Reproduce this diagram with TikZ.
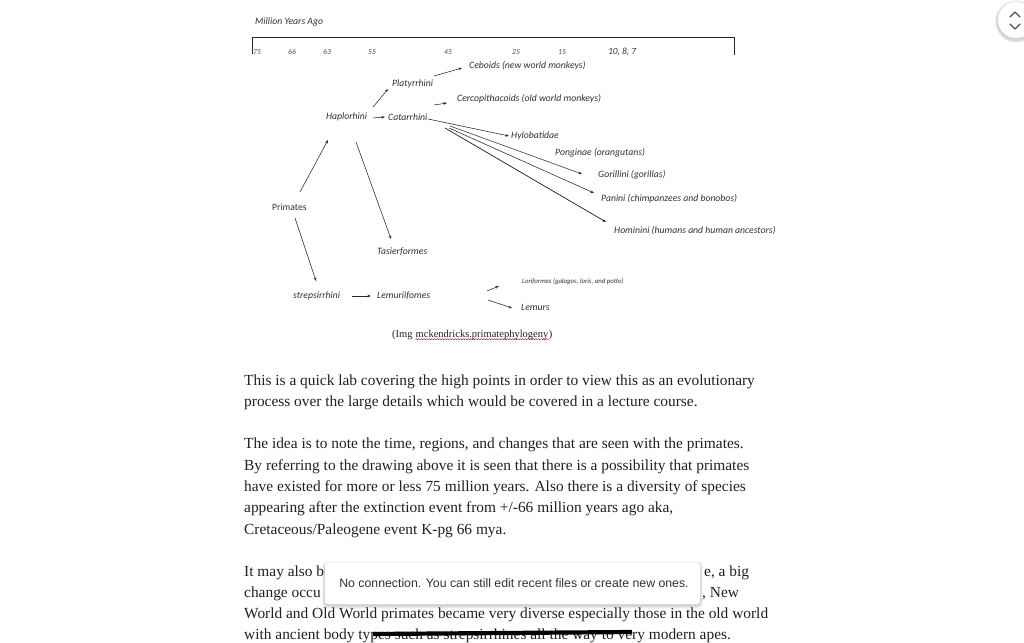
\documentclass[tikz,border=0pt]{standalone}
\usepackage{fontspec}
\setmainfont{Liberation Serif}
\newfontfamily\carl{Carlito}
\newfontfamily\uisans{Liberation Sans}
\usetikzlibrary{arrows.meta,decorations.pathmorphing}
\definecolor{bodytxt}{RGB}{35,30,40}
\definecolor{labtxt}{RGB}{50,50,55}
\definecolor{toasttxt}{RGB}{50,50,55}
\begin{document}
\begin{tikzpicture}[x=1pt,y=-1pt,
  lab/.style={font=\carl\itshape\fontsize{9.7}{10}\selectfont, text=labtxt, inner sep=0pt, anchor=west},
  smalllab/.style={font=\carl\itshape\fontsize{6.8}{7}\selectfont, text=labtxt, inner sep=0pt, anchor=west},
  uplab/.style={font=\carl\fontsize{9.6}{10}\selectfont, text=labtxt, inner sep=0pt, anchor=west},
  num/.style={font=\carl\itshape\fontsize{7.6}{8}\selectfont, text=black!70, inner sep=0pt},
  arr/.style={-{Stealth[length=3.6pt,width=2.6pt]}, line width=0.55pt, draw=black!85},
  bodyline/.style={font=\fontsize{15.4}{17}\selectfont, text=bodytxt, inner sep=0pt, anchor=base west},
  captext/.style={font=\fontsize{10.5}{12}\selectfont, text=bodytxt, inner sep=0pt, anchor=base west}
]
\fill[white] (0,0) rectangle (1024,642);
\useasboundingbox (0,0) rectangle (1024,642);

% ---- timeline header ----
\node[lab] (mya) at (255,22) {Million Years Ago};
\coordinate (tlb) at (252,54);
\coordinate (tlt) at (252,37);
\coordinate (trt) at (734,37);
\coordinate (trb) at (734,55);
\draw[line width=0.7pt, black!85] (tlb) -- (tlt) -- (trt) -- (trb);
\node[num] (n75) at (257,52) {75};
\node[num] (n66) at (292,52) {66};
\node[num] (n63) at (327,52) {63};
\node[num] (n55) at (372,52) {55};
\node[num] (n45) at (448,52) {45};
\node[num] (n25) at (516,52) {25};
\node[num] (n15) at (562,52) {15};
\node[num, font=\carl\itshape\fontsize{9.4}{10}\selectfont, text=labtxt] (n1087) at (622,52) {10, 8, 7};

% ---- tree labels ----
\node[lab] (ceb) at (469,66) {Ceboids (new world monkeys)};
\node[lab] (pla) at (392,84) {Platyrrhini};
\node[lab] (cer) at (457,99) {Cercopithacoids (old world monkeys)};
\node[lab] (hap) at (326,117) {Haplorhini};
\node[lab] (cat) at (388,117) {Catarrhini};
\node[lab] (hyl) at (511,136) {Hylobatidae};
\node[lab] (pon) at (555,153) {Ponginae (orangutans)};
\node[lab] (gor) at (598,175) {Gorillini (gorillas)};
\node[lab] (pan) at (601,199) {Panini (chimpanzees and bonobos)};
\node[lab] (hom) at (614,231) {Hominini (humans and human ancestors)};
\node[uplab] (pri) at (272,207) {Primates};
\node[lab] (tas) at (377,252) {Tasierformes};
\node[lab] (str) at (293,296) {strepsirrhini};
\node[lab] (lem) at (377,296) {Lemuriifomes};
\node[smalllab] (lor) at (522,282) {Loriformes (galagos, loris, and potto)};
\node[lab] (lmr) at (521,307) {Lemurs};

% ---- connector end points ----
\coordinate (a1s) at (434,76);  \coordinate (a1e) at (462,68);
\coordinate (a2s) at (373,107); \coordinate (a2e) at (388,89);
\coordinate (a3s) at (434,105); \coordinate (a3e) at (447,103);
\coordinate (a4s) at (373,118); \coordinate (a4e) at (385,117);
\coordinate (a5s) at (428,119); \coordinate (a5e) at (509,136);
\coordinate (a6s) at (450,126); \coordinate (a6e) at (582,174);
\coordinate (a7s) at (449,128); \coordinate (a7e) at (594,193);
\coordinate (a8s) at (445,128); \coordinate (a8e) at (606,222);
\coordinate (a9s) at (300,192); \coordinate (a9e) at (328,140);
\coordinate (b1s) at (356,142); \coordinate (b1e) at (391,239);
\coordinate (b2s) at (295,218); \coordinate (b2e) at (316,281);
\coordinate (b3s) at (352,296); \coordinate (b3e) at (371,296);
\coordinate (b4s) at (487,291); \coordinate (b4e) at (499,286);
\coordinate (b5s) at (488,300); \coordinate (b5e) at (512,308);

\draw[arr] (a1s) -- (a1e);
\draw[arr] (a2s) -- (a2e);
\draw[arr] (a3s) -- (a3e);
\draw[arr] (a4s) -- (a4e);
\draw[arr] (a5s) -- (a5e);
\draw[arr] (a6s) -- (a6e);
\draw[arr] (a7s) -- (a7e);
\draw[arr, line width=0.75pt] (a8s) -- (a8e);
\draw[arr] (a9s) -- (a9e);
\draw[arr] (b1s) -- (b1e);
\draw[arr] (b2s) -- (b2e);
\draw[arr] (b3s) -- (b3e);
\draw[arr] (b4s) -- (b4e);
\draw[arr] (b5s) -- (b5e);

% ---- caption ----
\node[captext] (cap1) at (392,337) {(Img};
\node[captext] (cap2) at ([xshift=2.7pt]cap1.base east) {mckendricks.primatephylogeny};
\node[captext] (cap3) at (cap2.base east) {)};
\draw[red!80!black, line width=0.4pt, decorate, decoration={snake, amplitude=0.6pt, segment length=2.6pt}]
  ([yshift=-2.2pt]cap2.base west) -- ([yshift=-2.2pt]cap2.base east);

% ---- body text ----
\node[bodyline] (l1) at (244,385) {This is a quick lab covering the high points in order to view this as an evolutionary};
\node[bodyline] (l2) at (244,406) {process over the large details which would be covered in a lecture course.};
\node[bodyline] (l3) at (244,448) {The idea is to note the time, regions, and changes that are seen with the primates.};
\node[bodyline] (l4) at (244,470) {By referring to the drawing above it is seen that there is a possibility that primates};
\node[bodyline] (l5) at (244,491) {have existed for more or less 75 million years. Also there is a diversity of species};
\node[bodyline] (l6) at (244,512) {appearing after the extinction event from +/-66 million years ago aka,};
\node[bodyline] (l7) at (244,534) {Cretaceous/Paleogene event K-pg 66 mya.};
\node[bodyline] (l8a) at (244,576) {It may also b};
\node[bodyline] (l8b) at (704,576) {e, a big};
\node[bodyline] (l9a) at (244,597) {change occu};
\node[bodyline] (l9b) at (702,597) {, New};
\node[bodyline] (l10) at (244,618) {World and Old World primates became very diverse especially those in the old world};
\node[bodyline] (l11) at (244,639) {with ancient body types such as strepsirrhines all the way to very modern apes.};
\coordinate (barL) at (373,634);
\coordinate (barR) at (632,632);
\draw[line width=4.2pt, black] (barL) -- (barR);

% ---- toast ----
\foreach \o/\a in {3/0.04,2/0.06,1/0.08}{
  \fill[black, opacity=\a, rounded corners=4pt] (325-\o,563-\o+1.5) rectangle (700+\o,604+\o+1.5);
}
\fill[white, rounded corners=3pt] (325,563) rectangle (700,604);
\node[font=\uisans\fontsize{12.3}{14}\selectfont, text=toasttxt, inner sep=0pt] (toast) at (514,583) {No connection. You can still edit recent files or create new ones.};

% ---- scroll button ----
\foreach \o/\a in {3.5/0.04,2.5/0.06,1.5/0.08}{
  \fill[black, opacity=\a] (1016,21.5) circle (18+\o);
}
\fill[white] (1016,20) circle (18);
\coordinate (cu1) at (1010,17); \coordinate (cu2) at (1015,12); \coordinate (cu3) at (1020,17);
\coordinate (cd1) at (1010,24); \coordinate (cd2) at (1015,29); \coordinate (cd3) at (1020,24);
\draw[black!70, line width=1.3pt, line cap=round, line join=round] (cu1) -- (cu2) -- (cu3);
\draw[black!70, line width=1.3pt, line cap=round, line join=round] (cd1) -- (cd2) -- (cd3);
\end{tikzpicture}
\end{document}
